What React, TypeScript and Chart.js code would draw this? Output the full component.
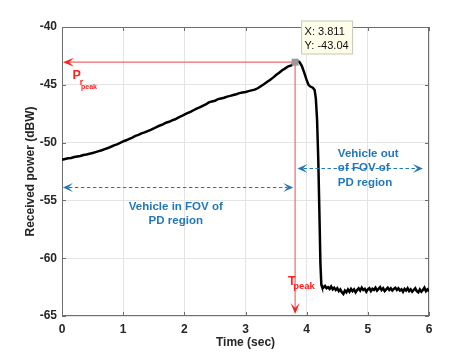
import React, { useEffect, useRef } from "react";
import { Chart, registerables } from "chart.js";
Chart.register(...registerables);

const timeSec = [
  0.0, 0.05, 0.1, 0.15, 0.2, 0.25, 0.3, 0.35, 0.4, 0.45, 0.5, 0.55, 0.6, 0.65, 0.7, 0.75, 0.8, 0.85, 0.9, 0.95,
  1.0, 1.05, 1.1, 1.15, 1.2, 1.25, 1.3, 1.35, 1.4, 1.45, 1.5, 1.55, 1.6, 1.65, 1.7, 1.75, 1.8, 1.85, 1.9, 1.95,
  2.0, 2.05, 2.1, 2.15, 2.2, 2.25, 2.3, 2.35, 2.4, 2.45, 2.5, 2.55, 2.6, 2.65, 2.7, 2.75, 2.8, 2.85, 2.9, 2.95,
  3.0, 3.05, 3.1, 3.15, 3.2, 3.25, 3.3, 3.35, 3.4, 3.45, 3.5, 3.55, 3.6, 3.65, 3.7, 3.75, 3.78, 3.811, 3.85, 3.88,
  3.92, 3.96, 4.0, 4.03, 4.06, 4.1, 4.13, 4.15, 4.17, 4.19, 4.21, 4.225, 4.24,
  4.25, 4.275, 4.3, 4.325, 4.35, 4.375, 4.4, 4.425, 4.45, 4.475, 4.5, 4.525, 4.55, 4.575, 4.6, 4.625, 4.65, 4.675,
  4.7, 4.725, 4.75, 4.775, 4.8, 4.825, 4.85, 4.875, 4.9, 4.925, 4.95, 4.975, 5.0, 5.025, 5.05, 5.075, 5.1, 5.125,
  5.15, 5.175, 5.2, 5.225, 5.25, 5.275, 5.3, 5.325, 5.35, 5.375, 5.4, 5.425, 5.45, 5.475, 5.5, 5.525, 5.55, 5.575,
  5.6, 5.625, 5.65, 5.675, 5.7, 5.725, 5.75, 5.775, 5.8, 5.825, 5.85, 5.875, 5.9, 5.925, 5.95, 5.975, 6.0,
];

const powerDbw = [
  -51.48, -51.42, -51.36, -51.33, -51.25, -51.2, -51.16, -51.08, -51.03, -50.96, -50.9, -50.82, -50.74, -50.66, -50.56, -50.47, -50.36, -50.24, -50.15, -50.03,
  -49.9, -49.8, -49.68, -49.56, -49.42, -49.33, -49.2, -49.12, -49.0, -48.9, -48.78, -48.64, -48.52, -48.42, -48.28, -48.2, -48.08, -47.98, -47.84, -47.72,
  -47.58, -47.45, -47.34, -47.2, -47.06, -46.96, -46.82, -46.7, -46.52, -46.45, -46.38, -46.24, -46.18, -46.12, -46.02, -45.96, -45.88, -45.82, -45.72, -45.66,
  -45.62, -45.55, -45.48, -45.42, -45.3, -45.12, -44.95, -44.76, -44.58, -44.38, -44.16, -43.96, -43.74, -43.58, -43.4, -43.32, -43.18, -43.04, -42.98, -43.02,
  -43.35, -43.95, -44.6, -45.0, -45.15, -45.25, -45.45, -46.2, -48.0, -51.5, -56.5, -60.5, -62.3,
  -62.45, -62.55, -62.4, -62.6, -62.5, -62.65, -62.45, -62.7, -62.55, -62.75, -62.6, -62.85, -62.7, -62.95, -63.1, -62.8, -62.95, -62.7,
  -62.9, -62.65, -62.85, -62.7, -62.95, -62.75, -62.6, -62.8, -62.55, -62.75, -62.65, -62.9, -62.7, -62.6, -62.85, -62.65, -62.75, -62.55,
  -62.8, -62.65, -62.5, -62.75, -62.6, -62.85, -62.7, -62.55, -62.75, -62.6, -62.8, -62.65, -62.55, -62.75, -62.6, -62.8, -62.7, -62.9,
  -62.65, -62.8, -62.6, -62.85, -62.7, -62.9, -62.75, -62.6, -62.85, -62.95, -62.7, -62.9, -62.75, -62.55, -62.85, -62.7, -62.85,
];

const xTicks = [0, 1, 2, 3, 4, 5, 6];
const yTicks = [-65, -60, -55, -50, -45, -40];
const peakTime = 3.811;
const peakPower = -43.04;
const tipLines = ["X: 3.811", "Y: -43.04"];
const inRegionLabel = ["Vehicle in FOV of", "PD region"];
const outRegionLabel = ["Vehicle out", "of FOV of", "PD region"];

const FONT = "'Liberation Sans', Arial, Helvetica, sans-serif";
const RED = "#ff2020";
const RED_LINE = "#f26a6a";
const BLUE = "#2478b8";

function arrowHead(ctx: CanvasRenderingContext2D, x: number, y: number, ang: number, len: number, half: number, color: string) {
  const c = Math.cos(ang), s = Math.sin(ang);
  const pt = (a: number, b: number) => [x - a * c - b * -s, y - a * s - b * c];
  const p1 = pt(len, half);
  const p2 = pt(len * 0.55, 0);
  const p3 = pt(len, -half);
  ctx.save();
  ctx.fillStyle = color;
  ctx.beginPath();
  ctx.moveTo(x, y);
  ctx.lineTo(p1[0], p1[1]);
  ctx.lineTo(p2[0], p2[1]);
  ctx.lineTo(p3[0], p3[1]);
  ctx.closePath();
  ctx.fill();
  ctx.restore();
}

const annotations = {
  id: "annotations",
  beforeDatasetsDraw(chart: any) {
    const { ctx, chartArea: a, scales } = chart;
    const xs = scales.x, ys = scales.y;
    const px = xs.getPixelForValue(peakTime);
    const py = ys.getPixelForValue(peakPower);
    ctx.save();
    ctx.strokeStyle = "#6e6e6e";
    ctx.lineWidth = 1;
    ctx.strokeRect(a.left + 0.5, a.top + 0.5, a.right - a.left - 1, a.bottom - a.top - 1);
    ctx.beginPath();
    xTicks.forEach((v) => {
      const x = Math.round(xs.getPixelForValue(v)) + 0.5;
      ctx.moveTo(x, a.bottom);
      ctx.lineTo(x, a.bottom - 4);
      ctx.moveTo(x, a.top);
      ctx.lineTo(x, a.top + 4);
    });
    yTicks.forEach((v) => {
      const y = Math.round(ys.getPixelForValue(v)) + 0.5;
      ctx.moveTo(a.left, y);
      ctx.lineTo(a.left + 4, y);
      ctx.moveTo(a.right, y);
      ctx.lineTo(a.right - 4, y);
    });
    ctx.stroke();
    ctx.strokeStyle = RED_LINE;
    ctx.lineWidth = 1.2;
    ctx.beginPath();
    ctx.moveTo(px, py);
    ctx.lineTo(a.left + 3, py);
    ctx.moveTo(px, py);
    ctx.lineTo(px, a.bottom - 4);
    ctx.stroke();
    ctx.restore();
    arrowHead(ctx, a.left + 1, py, Math.PI, 11, 4.5, RED);
    arrowHead(ctx, px, a.bottom - 2, Math.PI / 2, 11, 4.5, RED);
  },
  afterDatasetsDraw(chart: any) {
    const { ctx, chartArea: a, scales } = chart;
    const xs = scales.x, ys = scales.y;
    const px = xs.getPixelForValue(peakTime);
    const py = ys.getPixelForValue(peakPower);
    ctx.save();
    ctx.fillStyle = "#9a9a9a";
    ctx.fillRect(px - 3.5, py - 3.5, 7, 7);
    const bx = px + 6, by = a.top - 6.5;
    ctx.fillStyle = "#fdfde9";
    ctx.strokeStyle = "#c8c8c0";
    ctx.lineWidth = 1;
    ctx.fillRect(bx, by, 52, 34);
    ctx.strokeRect(bx + 0.5, by + 0.5, 51, 33);
    ctx.fillStyle = "#111";
    ctx.font = `11px ${FONT}`;
    ctx.textAlign = "left";
    ctx.textBaseline = "middle";
    ctx.fillText(tipLines[0], bx + 3.5, by + 11);
    ctx.fillText(tipLines[1], bx + 3.5, by + 25);

    ctx.fillStyle = RED;
    ctx.textBaseline = "alphabetic";
    ctx.font = `bold 12.5px ${FONT}`;
    ctx.fillText("P", xs.getPixelForValue(0.17), ys.getPixelForValue(-44.52));
    ctx.font = `bold 8.5px ${FONT}`;
    ctx.fillText("r", xs.getPixelForValue(0.29), ys.getPixelForValue(-44.98));
    ctx.font = `bold 7px ${FONT}`;
    ctx.fillText("peak", xs.getPixelForValue(0.31), ys.getPixelForValue(-45.38));
    ctx.font = `bold 12.5px ${FONT}`;
    ctx.fillText("T", xs.getPixelForValue(3.695), ys.getPixelForValue(-62.31));
    ctx.font = `bold 9.5px ${FONT}`;
    ctx.fillText("peak", xs.getPixelForValue(3.779), ys.getPixelForValue(-62.66));

    const dashArrow = (x0: number, x1: number, yv: number) => {
      const xa = xs.getPixelForValue(x0), xb = xs.getPixelForValue(x1);
      const y = Math.round(ys.getPixelForValue(yv)) + 0.5;
      ctx.save();
      ctx.strokeStyle = BLUE;
      ctx.lineWidth = 1;
      ctx.setLineDash([3.5, 2.5]);
      ctx.beginPath();
      ctx.moveTo(xa + 6, y);
      ctx.lineTo(xb - 6, y);
      ctx.stroke();
      ctx.restore();
      arrowHead(ctx, xa, y, Math.PI, 10, 4.5, BLUE);
      arrowHead(ctx, xb, y, 0, 10, 4.5, BLUE);
    };
    dashArrow(0.015, 3.78, -53.83);
    dashArrow(3.85, 5.9, -52.2);

    ctx.fillStyle = BLUE;
    ctx.font = `bold 11.5px ${FONT}`;
    ctx.textBaseline = "middle";
    ctx.textAlign = "center";
    ctx.fillText(inRegionLabel[0], xs.getPixelForValue(1.86), ys.getPixelForValue(-55.56));
    ctx.fillText(inRegionLabel[1], xs.getPixelForValue(1.86), ys.getPixelForValue(-56.77));
    ctx.textAlign = "left";
    ctx.fillText(outRegionLabel[0], xs.getPixelForValue(4.51), ys.getPixelForValue(-50.97));
    ctx.fillText(outRegionLabel[1], xs.getPixelForValue(4.51), ys.getPixelForValue(-52.18));
    ctx.fillText(outRegionLabel[2], xs.getPixelForValue(4.51), ys.getPixelForValue(-53.48));
    ctx.restore();
  },
};

export default function App() {
  const ref = useRef<HTMLCanvasElement>(null);
  useEffect(() => {
    document.body.style.margin = "0";
    document.body.style.background = "#ffffff";
    const canvas = ref.current!;
    const tickFont = { family: FONT, size: 12, weight: "bold" as const };
    const chart = new Chart(canvas, {
      type: "line",
      data: {
        datasets: [
          {
            data: timeSec.map((t, i) => ({ x: t, y: powerDbw[i] })),
            borderColor: "#000",
            borderWidth: 2.5,
            pointRadius: 0,
            tension: 0,
            fill: false,
          },
        ],
      },
      options: {
        animation: false,
        responsive: false,
        devicePixelRatio: 1,
        layout: { padding: { top: 27, right: 45, left: 0, bottom: 0 } },
        plugins: { legend: { display: false }, tooltip: { enabled: false } },
        scales: {
          x: {
            type: "linear",
            min: 0,
            max: 6,
            afterBuildTicks: (s: any) => {
              s.ticks = xTicks.map((v) => ({ value: v }));
            },
            afterFit: (s: any) => {
              s.height = 39;
            },
            ticks: { font: tickFont, color: "#262626", padding: 6, maxRotation: 0, callback: (v: any) => String(v) },
            grid: { color: "#e4e4e4", drawTicks: false },
            border: { display: false },
            title: {
              display: true,
              text: "Time (sec)",
              font: tickFont,
              color: "#262626",
              padding: { top: 0, bottom: 5 },
            },
          },
          y: {
            type: "linear",
            min: -65,
            max: -40,
            afterBuildTicks: (s: any) => {
              s.ticks = yTicks.map((v) => ({ value: v }));
            },
            afterFit: (s: any) => {
              s.width = 62;
            },
            ticks: { font: tickFont, color: "#262626", padding: 5, callback: (v: any) => String(v) },
            grid: { color: "#e4e4e4", drawTicks: false },
            border: { display: false },
            title: {
              display: true,
              text: "Received power (dBW)",
              font: tickFont,
              color: "#262626",
              padding: { top: 23, bottom: 0 },
            },
          },
        },
      },
      plugins: [annotations],
    } as any);
    return () => chart.destroy();
  }, []);
  return (
    <div style={{ width: 474, height: 355 }}>
      <canvas ref={ref} width={474} height={355} style={{ display: "block" }} />
    </div>
  );
}
